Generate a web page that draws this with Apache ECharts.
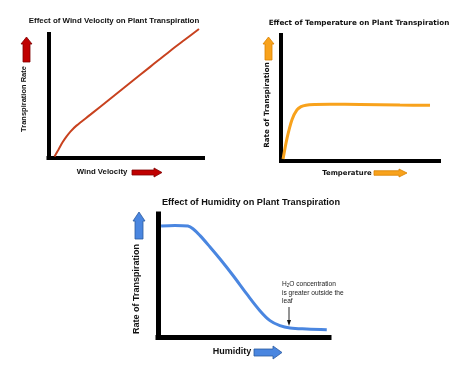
<!DOCTYPE html>
<html>
<head>
<meta charset="utf-8">
<script src="https://cdn.jsdelivr.net/npm/echarts@6/dist/echarts.min.js"></script>
<style>html,body{margin:0;padding:0;background:#fff;}#c{width:474px;height:368px;}</style>
</head>
<body>
<div id="c"></div>
<script>
// Chart 1: wind velocity
const windX = [3.9, 6.5, 9.0, 11.6, 14.2, 18.1, 27.1, 40, 52.9, 65.8, 78.7, 88.4, 97.4];
const windY = [0.8, 6.5, 12.1, 16.9, 21, 25.8, 34.7, 47.6, 60.5, 73.4, 86.3, 95.5, 104];
// Chart 2: temperature
const tempX = [1.3, 3.8, 7.0, 10.1, 12.7, 15.8, 21.5, 31, 50, 75.3, 94.3];
const tempY = [1.6, 18, 33, 40.5, 43.2, 44.3, 44.8, 45.1, 44.9, 44.4, 44.2];
// Chart 3: humidity
const humX = [1.8, 9.9, 17.5, 20.6, 24.6, 30.4, 36.3, 44.0, 51.9, 59.6, 65.5, 71.3, 77.2, 87.0, 98.7];
const humY = [90.2, 90.7, 90.2, 87.8, 82.4, 73.2, 63.4, 49.8, 35.0, 21.4, 13.3, 9.2, 7.3, 6.5, 5.9];

const titles = [
  'Effect of Wind Velocity on Plant Transpiration',
  'Effect of Temperature on Plant Transpiration',
  'Effect of Humidity on Plant Transpiration'
];
const xNames = ['Wind Velocity', 'Temperature', 'Humidity'];
const yNames = ['Transpiration Rate', 'Rate of Transpiration', 'Rate of Transpiration'];
const note = ['H{sub|2}O concentration', 'is greater outside the', 'leaf'];

const zip = (a, b) => a.map((v, i) => [v, b[i]]);
const ARIAL = 'Liberation Sans, Arial, sans-serif';
const COMIC = 'DejaVu Sans, sans-serif';

const grids = [
  {left: 48.5, top: 34, width: 154.5, height: 123.5},
  {left: 281, top: 35, width: 158, height: 126},
  {left: 158, top: 214, width: 171, height: 123}
];
const axisW = [4, 4, 5];

function axisBase(i) {
  return {
    type: 'value', min: 0, max: 100, gridIndex: i,
    axisLine: {show: true, onZero: false, lineStyle: {color: '#000', width: axisW[i], cap: 'square'}},
    axisTick: {show: false}, axisLabel: {show: false}, splitLine: {show: false}
  };
}

function upArrow(x, yTop, w, headW, headH, h, fill, stroke) {
  const cx = x + headW / 2, bw = w / 2;
  return {type: 'polygon', shape: {points: [
    [cx, yTop], [x + headW, yTop + headH], [cx + bw, yTop + headH], [cx + bw, yTop + h],
    [cx - bw, yTop + h], [cx - bw, yTop + headH], [x, yTop + headH]]},
    style: {fill: fill, stroke: stroke, lineWidth: 0.8}};
}
function rightArrow(x, yTop, len, headH, headL, bh, fill, stroke) {
  const cy = yTop + headH / 2, b = bh / 2;
  return {type: 'polygon', shape: {points: [
    [x, cy - b], [x + len - headL, cy - b], [x + len - headL, yTop], [x + len, cy],
    [x + len - headL, yTop + headH], [x + len - headL, cy + b], [x, cy + b]]},
    style: {fill: fill, stroke: stroke, lineWidth: 0.8}};
}

const chart = echarts.init(document.getElementById('c'), null, {renderer: 'canvas'});
chart.setOption({
  backgroundColor: '#fff',
  animation: false,
  title: [
    {text: titles[0], left: 109, top: 12, textAlign: 'center',
     textStyle: {fontFamily: ARIAL, fontWeight: 'bold', fontSize: 7.9, color: '#111'}},
    {text: titles[1], left: 354, top: 15, textAlign: 'center',
     textStyle: {fontFamily: COMIC, fontWeight: 'bold', fontSize: 7.2, color: '#111'}},
    {text: titles[2], left: 246, top: 193, textAlign: 'center',
     textStyle: {fontFamily: ARIAL, fontWeight: 'bold', fontSize: 9.2, color: '#111'}}
  ],
  grid: grids,
  xAxis: [axisBase(0), axisBase(1), axisBase(2)],
  yAxis: [axisBase(0), axisBase(1), axisBase(2)],
  series: [
    {type: 'line', xAxisIndex: 0, yAxisIndex: 0, data: zip(windX, windY), smooth: 0.3,
     showSymbol: false, clip: false, lineStyle: {color: '#c8421f', width: 2}},
    {type: 'line', xAxisIndex: 1, yAxisIndex: 1, data: zip(tempX, tempY), smooth: 0.3,
     showSymbol: false, clip: false, lineStyle: {color: '#f8a21c', width: 3}},
    {type: 'line', xAxisIndex: 2, yAxisIndex: 2, data: zip(humX, humY), smooth: 0.35,
     showSymbol: false, clip: false, lineStyle: {color: '#4a86e0', width: 3}}
  ],
  graphic: [
    // chart 1 labels
    {type: 'text', x: 102, y: 172, style: {text: xNames[0], font: 'bold 7.8px ' + ARIAL, fill: '#111', align: 'center', verticalAlign: 'middle'}},
    {type: 'text', x: 24, y: 99, rotation: Math.PI / 2, style: {text: yNames[0], font: 'bold 7.5px ' + ARIAL, fill: '#111', align: 'center', verticalAlign: 'middle'}},
    upArrow(21, 37, 7, 11, 7, 25, '#c00000', '#800000'),
    rightArrow(132, 168, 30, 9, 8, 5, '#c00000', '#800000'),
    // chart 2 labels
    {type: 'text', x: 347, y: 173, style: {text: xNames[1], font: 'bold 6.9px ' + COMIC, fill: '#111', align: 'center', verticalAlign: 'middle'}},
    {type: 'text', x: 267, y: 105, rotation: Math.PI / 2, style: {text: yNames[1], font: 'bold 7.2px ' + COMIC, fill: '#111', align: 'center', verticalAlign: 'middle'}},
    upArrow(263, 37, 7, 11, 7, 23, '#f8a21c', '#d98200'),
    rightArrow(374, 169, 33, 8, 8, 4.5, '#f8a21c', '#d98200'),
    // chart 3 labels
    {type: 'text', x: 232, y: 352, style: {text: xNames[2], font: 'bold 9px ' + ARIAL, fill: '#111', align: 'center', verticalAlign: 'middle'}},
    {type: 'text', x: 137, y: 289, rotation: Math.PI / 2, style: {text: yNames[2], font: 'bold 9px ' + ARIAL, fill: '#111', align: 'center', verticalAlign: 'middle'}},
    upArrow(133, 212, 8, 12, 9, 27, '#4a86e0', '#2c5aa0'),
    rightArrow(254, 346, 28, 13, 9, 7, '#4a86e0', '#2c5aa0'),
    // annotation
    {type: 'text', x: 282, y: 280, style: {
      text: note.join('\n'), font: '6.6px ' + ARIAL, fill: '#222', lineHeight: 8.5,
      rich: {sub: {fontSize: 4.5, verticalAlign: 'bottom', padding: [3, 0, 0, 0], fontFamily: ARIAL, fill: '#222'}}
    }},
    {type: 'line', shape: {x1: 289, y1: 307, x2: 289, y2: 321}, style: {stroke: '#111', lineWidth: 0.9}},
    {type: 'polygon', shape: {points: [[287, 320], [291, 320], [289, 326]]}, style: {fill: '#111'}}
  ]
});
</script>
</body>
</html>
